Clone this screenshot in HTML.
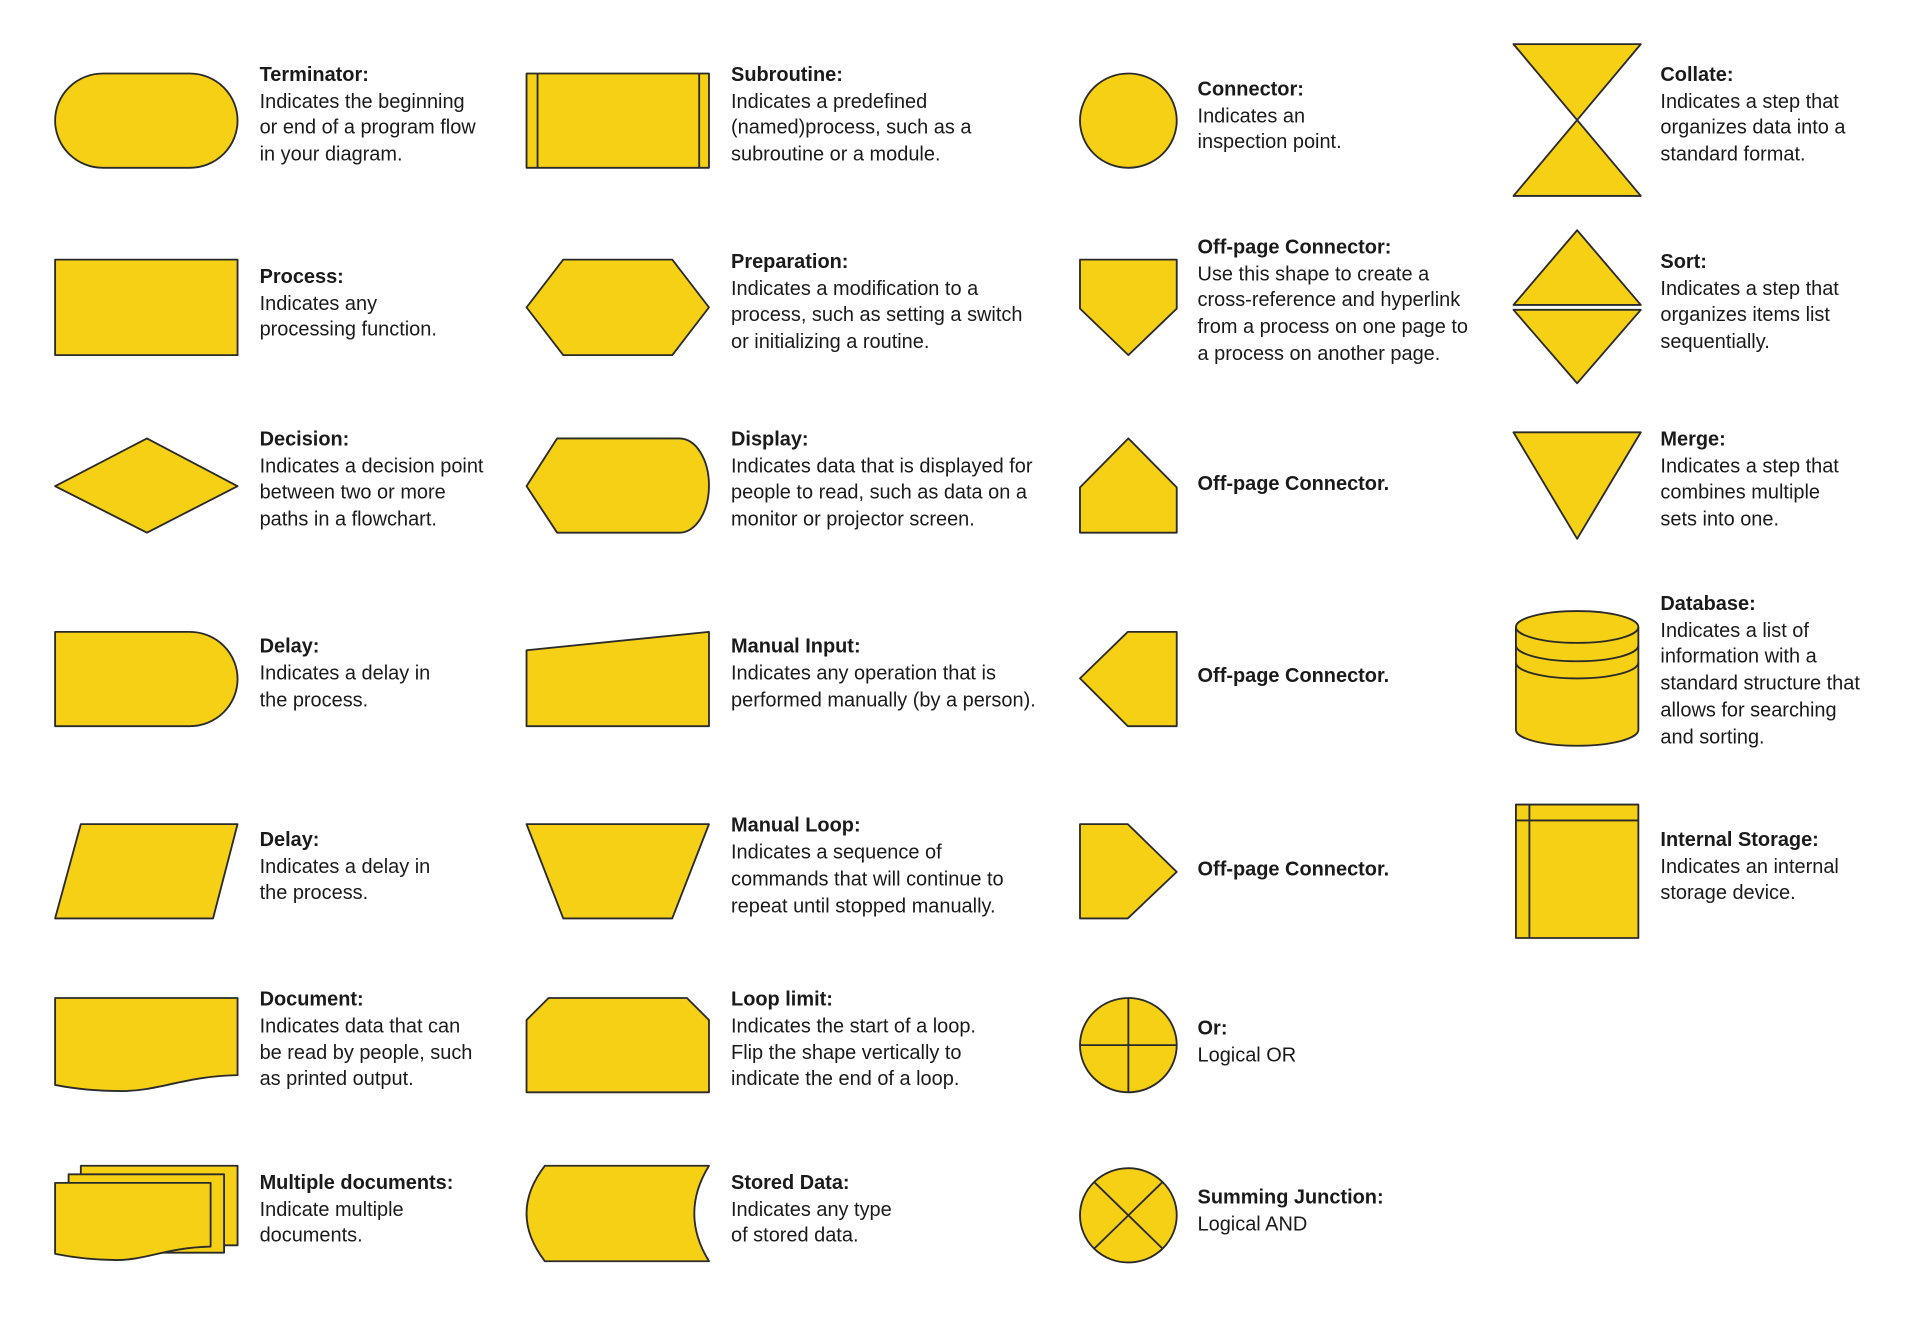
<!DOCTYPE html>
<html><head><meta charset="utf-8"><style>
html,body{margin:0;padding:0;background:#fff;}
svg{display:block;}
text{font-family:"Liberation Sans",sans-serif;font-size:16.3px;fill:#1a1a1a;}
.b{font-weight:bold;}
.s{fill:#F5D015;stroke:#2a2a2a;stroke-width:1.5;stroke-linejoin:round;}
.l{fill:none;stroke:#2a2a2a;stroke-width:1.5;}
</style></head><body>
<svg width="1920" height="1329" viewBox="0 0 1568 1085.3" xmlns="http://www.w3.org/2000/svg">
<!-- Column 1 -->
<path class="s" d="M84,60 H155 A39,38.5 0 0 1 155,137 H84 A39,38.5 0 0 1 84,60 Z"/>
<text x="212" y="66" class="b">Terminator:</text>
<text x="212" y="88">Indicates the beginning</text>
<text x="212" y="109">or end of a program flow</text>
<text x="212" y="131">in your diagram.</text>

<rect class="s" x="45" y="212" width="149" height="78"/>
<text x="212" y="231" class="b">Process:</text>
<text x="212" y="253">Indicates any</text>
<text x="212" y="274">processing function.</text>

<polygon class="s" points="45,397 120,358 194,397 120,435"/>
<text x="212" y="364" class="b">Decision:</text>
<text x="212" y="386">Indicates a decision point</text>
<text x="212" y="407">between two or more</text>
<text x="212" y="429">paths in a flowchart.</text>

<path class="s" d="M45,516 H155 A39,38.5 0 0 1 155,593 H45 Z"/>
<text x="212" y="533" class="b">Delay:</text>
<text x="212" y="555">Indicates a delay in</text>
<text x="212" y="577">the process.</text>

<polygon class="s" points="66,673 194,673 174,750 45,750"/>
<text x="212" y="691" class="b">Delay:</text>
<text x="212" y="713">Indicates a delay in</text>
<text x="212" y="734">the process.</text>

<path class="s" d="M45,815 H194 V878 C150,879 130,891 100,891 C75,891 55,888 45,886 Z"/>
<text x="212" y="821" class="b">Document:</text>
<text x="212" y="843">Indicates data that can</text>
<text x="212" y="865">be read by people, such</text>
<text x="212" y="886">as printed output.</text>

<rect class="s" x="66" y="952" width="128" height="65"/>
<rect class="s" x="56" y="959" width="127" height="64"/>
<path class="s" d="M45,966 H172 V1018 C135,1019 120,1029 95,1029 C73,1029 55,1026 45,1024 Z"/>
<text x="212" y="971" class="b">Multiple documents:</text>
<text x="212" y="993">Indicate multiple</text>
<text x="212" y="1014">documents.</text>

<!-- Column 2 -->
<rect class="s" x="430" y="60" width="149" height="77"/>
<line class="l" x1="439" y1="60" x2="439" y2="137"/>
<line class="l" x1="571" y1="60" x2="571" y2="137"/>
<text x="597" y="66" class="b">Subroutine:</text>
<text x="597" y="88">Indicates a predefined</text>
<text x="597" y="109">(named)process, such as a</text>
<text x="597" y="131">subroutine or a module.</text>

<polygon class="s" points="430,251 460,212 549,212 579,251 549,290 460,290"/>
<text x="597" y="219" class="b">Preparation:</text>
<text x="597" y="241">Indicates a modification to a</text>
<text x="597" y="262">process, such as setting a switch</text>
<text x="597" y="284">or initializing a routine.</text>

<path class="s" d="M430,397 L455,358 H555 A24,38.5 0 0 1 555,435 H455 Z"/>
<text x="597" y="364" class="b">Display:</text>
<text x="597" y="386">Indicates data that is displayed for</text>
<text x="597" y="407">people to read, such as data on a</text>
<text x="597" y="429">monitor or projector screen.</text>

<polygon class="s" points="430,531 579,516 579,593 430,593"/>
<text x="597" y="533" class="b">Manual Input:</text>
<text x="597" y="555">Indicates any operation that is</text>
<text x="597" y="577">performed manually (by a person).</text>

<polygon class="s" points="430,673 579,673 549,750 460,750"/>
<text x="597" y="679" class="b">Manual Loop:</text>
<text x="597" y="701">Indicates a sequence of</text>
<text x="597" y="723">commands that will continue to</text>
<text x="597" y="745">repeat until stopped manually.</text>

<polygon class="s" points="448,815 561,815 579,833 579,892 430,892 430,833"/>
<text x="597" y="821" class="b">Loop limit:</text>
<text x="597" y="843">Indicates the start of a loop.</text>
<text x="597" y="865">Flip the shape vertically to</text>
<text x="597" y="886">indicate the end of a loop.</text>

<path class="s" d="M445,952 H579 Q555,991 579,1030 H445 Q415,991 445,952 Z"/>
<text x="597" y="971" class="b">Stored Data:</text>
<text x="597" y="993">Indicates any type</text>
<text x="597" y="1014">of stored data.</text>

<!-- Column 3 -->
<ellipse class="s" cx="921.5" cy="98.5" rx="39.5" ry="38.5"/>
<text x="978" y="78" class="b">Connector:</text>
<text x="978" y="100">Indicates an</text>
<text x="978" y="121">inspection point.</text>

<polygon class="s" points="882,212 961,212 961,252 921.5,290 882,252"/>
<text x="978" y="207" class="b">Off-page Connector:</text>
<text x="978" y="229">Use this shape to create a</text>
<text x="978" y="250">cross-reference and hyperlink</text>
<text x="978" y="272">from a process on one page to</text>
<text x="978" y="294">a process on another page.</text>

<polygon class="s" points="882,398 921.5,358 961,398 961,435 882,435"/>
<text x="978" y="400" class="b">Off-page Connector.</text>

<polygon class="s" points="882,554 921,516 961,516 961,593 921,593"/>
<text x="978" y="557" class="b">Off-page Connector.</text>

<polygon class="s" points="882,673 921,673 961,712 921,750 882,750"/>
<text x="978" y="715" class="b">Off-page Connector.</text>

<ellipse class="s" cx="921.5" cy="853.5" rx="39.5" ry="38.5"/>
<line class="l" x1="882" y1="853.5" x2="961" y2="853.5"/>
<line class="l" x1="921.5" y1="815" x2="921.5" y2="892"/>
<text x="978" y="845" class="b">Or:</text>
<text x="978" y="867">Logical OR</text>

<ellipse class="s" cx="921.5" cy="992.5" rx="39.5" ry="38.5"/>
<line class="l" x1="893.6" y1="965.3" x2="949.4" y2="1019.7"/>
<line class="l" x1="949.4" y1="965.3" x2="893.6" y2="1019.7"/>
<text x="978" y="983" class="b">Summing Junction:</text>
<text x="978" y="1005">Logical AND</text>

<!-- Column 4 -->
<polygon class="s" points="1236,36 1340,36 1288,98"/>
<polygon class="s" points="1288,98 1340,160 1236,160"/>
<text x="1356" y="66" class="b">Collate:</text>
<text x="1356" y="88">Indicates a step that</text>
<text x="1356" y="109">organizes data into a</text>
<text x="1356" y="131">standard format.</text>

<polygon class="s" points="1288,188 1340,249 1236,249"/>
<polygon class="s" points="1236,253 1340,253 1288,313"/>
<text x="1356" y="219" class="b">Sort:</text>
<text x="1356" y="241">Indicates a step that</text>
<text x="1356" y="262">organizes items list</text>
<text x="1356" y="284">sequentially.</text>

<polygon class="s" points="1236,353 1340,353 1288,440"/>
<text x="1356" y="364" class="b">Merge:</text>
<text x="1356" y="386">Indicates a step that</text>
<text x="1356" y="407">combines multiple</text>
<text x="1356" y="429">sets into one.</text>

<path class="s" d="M1238,512 V596 A50,13 0 0 0 1338,596 V512 A50,13 0 0 0 1238,512 Z"/>
<path class="l" d="M1238,512 A50,13 0 0 0 1338,512"/>
<path class="l" d="M1238,527 A50,13 0 0 0 1338,527"/>
<path class="l" d="M1238,541 A50,13 0 0 0 1338,541"/>
<text x="1356" y="498" class="b">Database:</text>
<text x="1356" y="520">Indicates a list of</text>
<text x="1356" y="541">information with a</text>
<text x="1356" y="563">standard structure that</text>
<text x="1356" y="585">allows for searching</text>
<text x="1356" y="607">and sorting.</text>

<rect class="s" x="1238" y="657" width="100" height="109"/>
<line class="l" x1="1249" y1="657" x2="1249" y2="766"/>
<line class="l" x1="1238" y1="670" x2="1338" y2="670"/>
<text x="1356" y="691" class="b">Internal Storage:</text>
<text x="1356" y="713">Indicates an internal</text>
<text x="1356" y="734">storage device.</text>
</svg>
</body></html>
